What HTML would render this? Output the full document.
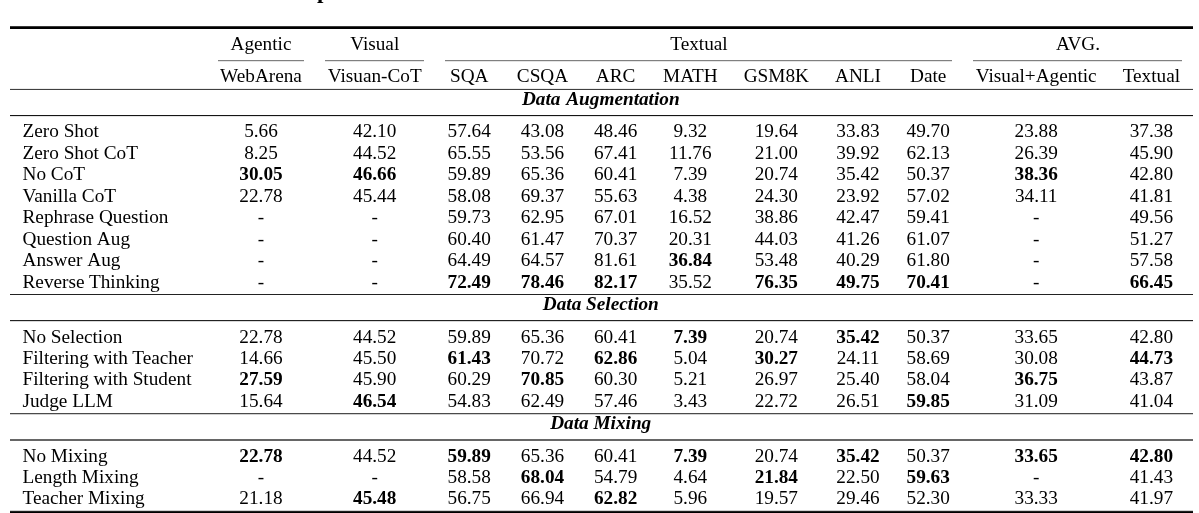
<!DOCTYPE html>
<html lang="en">
<head>
<meta charset="utf-8">
<title>Table</title>
<style>
html,body{margin:0;padding:0;background:#fff;}
body{width:1199px;height:513px;position:relative;overflow:hidden;font-family:"Liberation Serif","Times New Roman",serif;font-size:19.25px;color:#000;}
.t{position:absolute;white-space:nowrap;line-height:1;height:1em;}
.c{transform:translateX(-50%);}
.b{font-weight:bold;}
.bi{font-weight:bold;font-style:italic;}
.r{position:absolute;}
#w{position:absolute;left:0;top:0;width:1199px;height:513px;will-change:transform;}
</style>
</head>
<body>
<div id="w">
<div class="r" style="left:10px;top:26px;width:1183px;height:1px;background:#3a3a3a"></div>
<div class="r" style="left:10px;top:27px;width:1183px;height:1px;background:#000"></div>
<div class="r" style="left:10px;top:28px;width:1183px;height:1px;background:#000"></div>
<div class="r" style="left:10px;top:88px;width:1183px;height:1px;background:#ececec"></div>
<div class="r" style="left:10px;top:89px;width:1183px;height:1px;background:#404040"></div>
<div class="r" style="left:10px;top:115px;width:1183px;height:1px;background:#141414"></div>
<div class="r" style="left:10px;top:116px;width:1183px;height:1px;background:#e4e4e4"></div>
<div class="r" style="left:10px;top:294px;width:1183px;height:1px;background:#222"></div>
<div class="r" style="left:10px;top:320px;width:1183px;height:1px;background:#222"></div>
<div class="r" style="left:10px;top:321px;width:1183px;height:1px;background:#d8d8d8"></div>
<div class="r" style="left:10px;top:413px;width:1183px;height:1px;background:#4a4a4a"></div>
<div class="r" style="left:10px;top:414px;width:1183px;height:1px;background:#d0d0d0"></div>
<div class="r" style="left:10px;top:439px;width:1183px;height:1px;background:#666"></div>
<div class="r" style="left:10px;top:440px;width:1183px;height:1px;background:#666"></div>
<div class="r" style="left:10px;top:510px;width:1183px;height:1px;background:#d0d0d0"></div>
<div class="r" style="left:10px;top:511px;width:1183px;height:1px;background:#202020"></div>
<div class="r" style="left:10px;top:512px;width:1183px;height:1px;background:#000"></div>
<div class="r" style="left:218px;top:60px;width:86px;height:1px;background:#808080"></div>
<div class="r" style="left:218px;top:61px;width:86px;height:1px;background:#e4e4e4"></div>
<div class="r" style="left:325px;top:60px;width:99px;height:1px;background:#808080"></div>
<div class="r" style="left:325px;top:61px;width:99px;height:1px;background:#e4e4e4"></div>
<div class="r" style="left:445px;top:60px;width:507px;height:1px;background:#808080"></div>
<div class="r" style="left:445px;top:61px;width:507px;height:1px;background:#e4e4e4"></div>
<div class="r" style="left:973px;top:60px;width:209px;height:1px;background:#808080"></div>
<div class="r" style="left:973px;top:61px;width:209px;height:1px;background:#e4e4e4"></div>
<div class="t b" style="left:316.9px;top:-21px;font-size:23px">p</div>
<div class="t c" style="left:261px;top:33.88px">Agentic</div>
<div class="t c" style="left:374.7px;top:33.88px">Visual</div>
<div class="t c" style="left:699px;top:33.88px">Textual</div>
<div class="t c" style="left:1078px;top:33.88px">AVG.</div>
<div class="t c" style="left:261px;top:65.88px">WebArena</div>
<div class="t c" style="left:374.7px;top:65.88px">Visuan-CoT</div>
<div class="t c" style="left:469.2px;top:65.88px">SQA</div>
<div class="t c" style="left:542.5px;top:65.88px">CSQA</div>
<div class="t c" style="left:615.6px;top:65.88px">ARC</div>
<div class="t c" style="left:690.3px;top:65.88px">MATH</div>
<div class="t c" style="left:776.3px;top:65.88px">GSM8K</div>
<div class="t c" style="left:858px;top:65.88px">ANLI</div>
<div class="t c" style="left:928.2px;top:65.88px">Date</div>
<div class="t c" style="left:1036.2px;top:65.88px">Visual+Agentic</div>
<div class="t c" style="left:1151.4px;top:65.88px">Textual</div>
<div class="t c bi" style="left:600.8px;top:89.38px;word-spacing:1.7px">Data Augmentation</div>
<div class="t" style="left:22.5px;top:120.98px">Zero Shot</div>
<div class="t c" style="left:261px;top:120.98px">5.66</div>
<div class="t c" style="left:374.7px;top:120.98px">42.10</div>
<div class="t c" style="left:469.2px;top:120.98px">57.64</div>
<div class="t c" style="left:542.5px;top:120.98px">43.08</div>
<div class="t c" style="left:615.6px;top:120.98px">48.46</div>
<div class="t c" style="left:690.3px;top:120.98px">9.32</div>
<div class="t c" style="left:776.3px;top:120.98px">19.64</div>
<div class="t c" style="left:858px;top:120.98px">33.83</div>
<div class="t c" style="left:928.2px;top:120.98px">49.70</div>
<div class="t c" style="left:1036.2px;top:120.98px">23.88</div>
<div class="t c" style="left:1151.4px;top:120.98px">37.38</div>
<div class="t" style="left:22.5px;top:142.98px">Zero Shot CoT</div>
<div class="t c" style="left:261px;top:142.98px">8.25</div>
<div class="t c" style="left:374.7px;top:142.98px">44.52</div>
<div class="t c" style="left:469.2px;top:142.98px">65.55</div>
<div class="t c" style="left:542.5px;top:142.98px">53.56</div>
<div class="t c" style="left:615.6px;top:142.98px">67.41</div>
<div class="t c" style="left:690.3px;top:142.98px">11.76</div>
<div class="t c" style="left:776.3px;top:142.98px">21.00</div>
<div class="t c" style="left:858px;top:142.98px">39.92</div>
<div class="t c" style="left:928.2px;top:142.98px">62.13</div>
<div class="t c" style="left:1036.2px;top:142.98px">26.39</div>
<div class="t c" style="left:1151.4px;top:142.98px">45.90</div>
<div class="t" style="left:22.5px;top:163.98px">No CoT</div>
<div class="t c b" style="left:261px;top:163.98px">30.05</div>
<div class="t c b" style="left:374.7px;top:163.98px">46.66</div>
<div class="t c" style="left:469.2px;top:163.98px">59.89</div>
<div class="t c" style="left:542.5px;top:163.98px">65.36</div>
<div class="t c" style="left:615.6px;top:163.98px">60.41</div>
<div class="t c" style="left:690.3px;top:163.98px">7.39</div>
<div class="t c" style="left:776.3px;top:163.98px">20.74</div>
<div class="t c" style="left:858px;top:163.98px">35.42</div>
<div class="t c" style="left:928.2px;top:163.98px">50.37</div>
<div class="t c b" style="left:1036.2px;top:163.98px">38.36</div>
<div class="t c" style="left:1151.4px;top:163.98px">42.80</div>
<div class="t" style="left:22.5px;top:185.98px">Vanilla CoT</div>
<div class="t c" style="left:261px;top:185.98px">22.78</div>
<div class="t c" style="left:374.7px;top:185.98px">45.44</div>
<div class="t c" style="left:469.2px;top:185.98px">58.08</div>
<div class="t c" style="left:542.5px;top:185.98px">69.37</div>
<div class="t c" style="left:615.6px;top:185.98px">55.63</div>
<div class="t c" style="left:690.3px;top:185.98px">4.38</div>
<div class="t c" style="left:776.3px;top:185.98px">24.30</div>
<div class="t c" style="left:858px;top:185.98px">23.92</div>
<div class="t c" style="left:928.2px;top:185.98px">57.02</div>
<div class="t c" style="left:1036.2px;top:185.98px">34.11</div>
<div class="t c" style="left:1151.4px;top:185.98px">41.81</div>
<div class="t" style="left:22.5px;top:206.98px">Rephrase Question</div>
<div class="t c" style="left:261px;top:206.98px">-</div>
<div class="t c" style="left:374.7px;top:206.98px">-</div>
<div class="t c" style="left:469.2px;top:206.98px">59.73</div>
<div class="t c" style="left:542.5px;top:206.98px">62.95</div>
<div class="t c" style="left:615.6px;top:206.98px">67.01</div>
<div class="t c" style="left:690.3px;top:206.98px">16.52</div>
<div class="t c" style="left:776.3px;top:206.98px">38.86</div>
<div class="t c" style="left:858px;top:206.98px">42.47</div>
<div class="t c" style="left:928.2px;top:206.98px">59.41</div>
<div class="t c" style="left:1036.2px;top:206.98px">-</div>
<div class="t c" style="left:1151.4px;top:206.98px">49.56</div>
<div class="t" style="left:22.5px;top:228.98px;word-spacing:1.1px">Question Aug</div>
<div class="t c" style="left:261px;top:228.98px">-</div>
<div class="t c" style="left:374.7px;top:228.98px">-</div>
<div class="t c" style="left:469.2px;top:228.98px">60.40</div>
<div class="t c" style="left:542.5px;top:228.98px">61.47</div>
<div class="t c" style="left:615.6px;top:228.98px">70.37</div>
<div class="t c" style="left:690.3px;top:228.98px">20.31</div>
<div class="t c" style="left:776.3px;top:228.98px">44.03</div>
<div class="t c" style="left:858px;top:228.98px">41.26</div>
<div class="t c" style="left:928.2px;top:228.98px">61.07</div>
<div class="t c" style="left:1036.2px;top:228.98px">-</div>
<div class="t c" style="left:1151.4px;top:228.98px">51.27</div>
<div class="t" style="left:22.5px;top:249.98px;word-spacing:1.1px">Answer Aug</div>
<div class="t c" style="left:261px;top:249.98px">-</div>
<div class="t c" style="left:374.7px;top:249.98px">-</div>
<div class="t c" style="left:469.2px;top:249.98px">64.49</div>
<div class="t c" style="left:542.5px;top:249.98px">64.57</div>
<div class="t c" style="left:615.6px;top:249.98px">81.61</div>
<div class="t c b" style="left:690.3px;top:249.98px">36.84</div>
<div class="t c" style="left:776.3px;top:249.98px">53.48</div>
<div class="t c" style="left:858px;top:249.98px">40.29</div>
<div class="t c" style="left:928.2px;top:249.98px">61.80</div>
<div class="t c" style="left:1036.2px;top:249.98px">-</div>
<div class="t c" style="left:1151.4px;top:249.98px">57.58</div>
<div class="t" style="left:22.5px;top:271.98px">Reverse Thinking</div>
<div class="t c" style="left:261px;top:271.98px">-</div>
<div class="t c" style="left:374.7px;top:271.98px">-</div>
<div class="t c b" style="left:469.2px;top:271.98px">72.49</div>
<div class="t c b" style="left:542.5px;top:271.98px">78.46</div>
<div class="t c b" style="left:615.6px;top:271.98px">82.17</div>
<div class="t c" style="left:690.3px;top:271.98px">35.52</div>
<div class="t c b" style="left:776.3px;top:271.98px">76.35</div>
<div class="t c b" style="left:858px;top:271.98px">49.75</div>
<div class="t c b" style="left:928.2px;top:271.98px">70.41</div>
<div class="t c" style="left:1036.2px;top:271.98px">-</div>
<div class="t c b" style="left:1151.4px;top:271.98px">66.45</div>
<div class="t c bi" style="left:600.8px;top:294.38px">Data Selection</div>
<div class="t" style="left:22.5px;top:326.98px">No Selection</div>
<div class="t c" style="left:261px;top:326.98px">22.78</div>
<div class="t c" style="left:374.7px;top:326.98px">44.52</div>
<div class="t c" style="left:469.2px;top:326.98px">59.89</div>
<div class="t c" style="left:542.5px;top:326.98px">65.36</div>
<div class="t c" style="left:615.6px;top:326.98px">60.41</div>
<div class="t c b" style="left:690.3px;top:326.98px">7.39</div>
<div class="t c" style="left:776.3px;top:326.98px">20.74</div>
<div class="t c b" style="left:858px;top:326.98px">35.42</div>
<div class="t c" style="left:928.2px;top:326.98px">50.37</div>
<div class="t c" style="left:1036.2px;top:326.98px">33.65</div>
<div class="t c" style="left:1151.4px;top:326.98px">42.80</div>
<div class="t" style="left:22.5px;top:347.98px">Filtering with Teacher</div>
<div class="t c" style="left:261px;top:347.98px">14.66</div>
<div class="t c" style="left:374.7px;top:347.98px">45.50</div>
<div class="t c b" style="left:469.2px;top:347.98px">61.43</div>
<div class="t c" style="left:542.5px;top:347.98px">70.72</div>
<div class="t c b" style="left:615.6px;top:347.98px">62.86</div>
<div class="t c" style="left:690.3px;top:347.98px">5.04</div>
<div class="t c b" style="left:776.3px;top:347.98px">30.27</div>
<div class="t c" style="left:858px;top:347.98px">24.11</div>
<div class="t c" style="left:928.2px;top:347.98px">58.69</div>
<div class="t c" style="left:1036.2px;top:347.98px">30.08</div>
<div class="t c b" style="left:1151.4px;top:347.98px">44.73</div>
<div class="t" style="left:22.5px;top:368.98px">Filtering with Student</div>
<div class="t c b" style="left:261px;top:368.98px">27.59</div>
<div class="t c" style="left:374.7px;top:368.98px">45.90</div>
<div class="t c" style="left:469.2px;top:368.98px">60.29</div>
<div class="t c b" style="left:542.5px;top:368.98px">70.85</div>
<div class="t c" style="left:615.6px;top:368.98px">60.30</div>
<div class="t c" style="left:690.3px;top:368.98px">5.21</div>
<div class="t c" style="left:776.3px;top:368.98px">26.97</div>
<div class="t c" style="left:858px;top:368.98px">25.40</div>
<div class="t c" style="left:928.2px;top:368.98px">58.04</div>
<div class="t c b" style="left:1036.2px;top:368.98px">36.75</div>
<div class="t c" style="left:1151.4px;top:368.98px">43.87</div>
<div class="t" style="left:22.5px;top:390.98px">Judge LLM</div>
<div class="t c" style="left:261px;top:390.98px">15.64</div>
<div class="t c b" style="left:374.7px;top:390.98px">46.54</div>
<div class="t c" style="left:469.2px;top:390.98px">54.83</div>
<div class="t c" style="left:542.5px;top:390.98px">62.49</div>
<div class="t c" style="left:615.6px;top:390.98px">57.46</div>
<div class="t c" style="left:690.3px;top:390.98px">3.43</div>
<div class="t c" style="left:776.3px;top:390.98px">22.72</div>
<div class="t c" style="left:858px;top:390.98px">26.51</div>
<div class="t c b" style="left:928.2px;top:390.98px">59.85</div>
<div class="t c" style="left:1036.2px;top:390.98px">31.09</div>
<div class="t c" style="left:1151.4px;top:390.98px">41.04</div>
<div class="t c bi" style="left:600.7px;top:413.38px">Data Mixing</div>
<div class="t" style="left:22.5px;top:445.98px">No Mixing</div>
<div class="t c b" style="left:261px;top:445.98px">22.78</div>
<div class="t c" style="left:374.7px;top:445.98px">44.52</div>
<div class="t c b" style="left:469.2px;top:445.98px">59.89</div>
<div class="t c" style="left:542.5px;top:445.98px">65.36</div>
<div class="t c" style="left:615.6px;top:445.98px">60.41</div>
<div class="t c b" style="left:690.3px;top:445.98px">7.39</div>
<div class="t c" style="left:776.3px;top:445.98px">20.74</div>
<div class="t c b" style="left:858px;top:445.98px">35.42</div>
<div class="t c" style="left:928.2px;top:445.98px">50.37</div>
<div class="t c b" style="left:1036.2px;top:445.98px">33.65</div>
<div class="t c b" style="left:1151.4px;top:445.98px">42.80</div>
<div class="t" style="left:22.5px;top:466.98px">Length Mixing</div>
<div class="t c" style="left:261px;top:466.98px">-</div>
<div class="t c" style="left:374.7px;top:466.98px">-</div>
<div class="t c" style="left:469.2px;top:466.98px">58.58</div>
<div class="t c b" style="left:542.5px;top:466.98px">68.04</div>
<div class="t c" style="left:615.6px;top:466.98px">54.79</div>
<div class="t c" style="left:690.3px;top:466.98px">4.64</div>
<div class="t c b" style="left:776.3px;top:466.98px">21.84</div>
<div class="t c" style="left:858px;top:466.98px">22.50</div>
<div class="t c b" style="left:928.2px;top:466.98px">59.63</div>
<div class="t c" style="left:1036.2px;top:466.98px">-</div>
<div class="t c" style="left:1151.4px;top:466.98px">41.43</div>
<div class="t" style="left:22.5px;top:487.98px">Teacher Mixing</div>
<div class="t c" style="left:261px;top:487.98px">21.18</div>
<div class="t c b" style="left:374.7px;top:487.98px">45.48</div>
<div class="t c" style="left:469.2px;top:487.98px">56.75</div>
<div class="t c" style="left:542.5px;top:487.98px">66.94</div>
<div class="t c b" style="left:615.6px;top:487.98px">62.82</div>
<div class="t c" style="left:690.3px;top:487.98px">5.96</div>
<div class="t c" style="left:776.3px;top:487.98px">19.57</div>
<div class="t c" style="left:858px;top:487.98px">29.46</div>
<div class="t c" style="left:928.2px;top:487.98px">52.30</div>
<div class="t c" style="left:1036.2px;top:487.98px">33.33</div>
<div class="t c" style="left:1151.4px;top:487.98px">41.97</div>
</div>
</body>
</html>
